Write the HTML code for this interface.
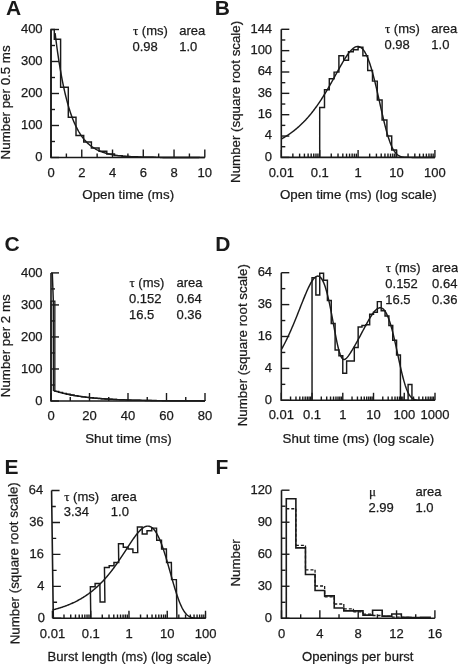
<!DOCTYPE html><html><head><meta charset="utf-8"><style>html,body{margin:0;padding:0;background:#fff;}svg{display:block;filter:blur(0.3px)}</style></head><body>
<svg width="458" height="664" viewBox="0 0 458 664" font-family="'Liberation Sans', Arial, Helvetica, sans-serif" fill="#1a1a1a" stroke="#1a1a1a" stroke-linecap="butt">
<rect width="458" height="664" fill="#fff" stroke="none"/>
<g stroke="none" font-weight="bold" font-size="21">
<text transform="translate(6,15.4) scale(1.0,1)" font-size="21" text-anchor="start" >A</text>
<text transform="translate(214.8,15.3) scale(1.0,1)" font-size="21" text-anchor="start" >B</text>
<text transform="translate(4.6,250.9) scale(1.0,1)" font-size="21" text-anchor="start" >C</text>
<text transform="translate(215.2,250.9) scale(1.0,1)" font-size="21" text-anchor="start" >D</text>
<text transform="translate(4.6,474.3) scale(1.0,1)" font-size="21" text-anchor="start" >E</text>
<text transform="translate(215.6,474.3) scale(1.0,1)" font-size="21" text-anchor="start" >F</text>
</g>
<path d="M51,29.5 V157.5 H204.8" fill="none" stroke-width="1.6"/>
<line x1="51" y1="157.5" x2="59" y2="157.5" stroke-width="1.4"/>
<line x1="51" y1="125.5" x2="59" y2="125.5" stroke-width="1.4"/>
<line x1="51" y1="93.5" x2="59" y2="93.5" stroke-width="1.4"/>
<line x1="51" y1="61.5" x2="59" y2="61.5" stroke-width="1.4"/>
<line x1="51" y1="29.5" x2="59" y2="29.5" stroke-width="1.4"/>
<line x1="51" y1="141.5" x2="55" y2="141.5" stroke-width="1.4"/>
<line x1="51" y1="109.5" x2="55" y2="109.5" stroke-width="1.4"/>
<line x1="51" y1="77.5" x2="55" y2="77.5" stroke-width="1.4"/>
<line x1="51" y1="45.5" x2="55" y2="45.5" stroke-width="1.4"/>
<line x1="51" y1="157.5" x2="51" y2="149.5" stroke-width="1.4"/>
<line x1="81.76" y1="157.5" x2="81.76" y2="149.5" stroke-width="1.4"/>
<line x1="112.52" y1="157.5" x2="112.52" y2="149.5" stroke-width="1.4"/>
<line x1="143.28" y1="157.5" x2="143.28" y2="149.5" stroke-width="1.4"/>
<line x1="174.04" y1="157.5" x2="174.04" y2="149.5" stroke-width="1.4"/>
<line x1="204.8" y1="157.5" x2="204.8" y2="149.5" stroke-width="1.4"/>
<line x1="66.38" y1="157.5" x2="66.38" y2="153.5" stroke-width="1.4"/>
<line x1="97.14" y1="157.5" x2="97.14" y2="153.5" stroke-width="1.4"/>
<line x1="127.9" y1="157.5" x2="127.9" y2="153.5" stroke-width="1.4"/>
<line x1="158.66" y1="157.5" x2="158.66" y2="153.5" stroke-width="1.4"/>
<line x1="189.42" y1="157.5" x2="189.42" y2="153.5" stroke-width="1.4"/>
<polyline points="51,157.5 51,29.5 54.3,29.5 54.3,39.2 60.6,39.2 60.6,87.2 68.3,87.2 68.3,117.2 76,117.2 76,135.4 83.7,135.4 83.7,141.9 91.4,141.9 91.4,147.9 99.1,147.9 99.1,151.2 106.8,151.2 106.8,153.9 114.5,153.9 114.5,155.63 122.2,155.63 122.2,156.38 129.9,156.38 129.9,156.83 137.6,156.83 137.6,157.1 145.3,157.1 145.3,157.26 153,157.26 153,157.35 160.7,157.35 160.7,157.41 168.4,157.41 168.4,157.45 176.1,157.45 176.1,157.47 183.8,157.47 183.8,157.48 191.5,157.48 191.5,157.49 199.2,157.49 199.2,157.5" fill="none" stroke-width="1.45" />
<polyline points="55.1,33.18 55.61,37.34 56.13,41.35 56.64,45.24 57.15,48.99 57.66,52.62 58.18,56.13 58.69,59.52 59.2,62.8 59.72,65.96 60.23,69.02 60.74,71.98 61.25,74.84 61.77,77.61 62.28,80.28 62.79,82.86 63.3,85.36 63.82,87.77 64.33,90.1 64.84,92.36 65.35,94.53 65.87,96.64 66.38,98.67 66.89,100.64 67.41,102.54 67.92,104.38 68.43,106.16 68.94,107.87 69.46,109.53 69.97,111.14 70.48,112.69 70.99,114.19 71.51,115.64 72.02,117.04 72.53,118.39 73.04,119.7 73.56,120.96 74.07,122.18 74.58,123.36 75.1,124.51 75.61,125.61 76.12,126.68 76.63,127.71 77.15,128.7 77.66,129.67 78.17,130.6 78.68,131.5 79.2,132.37 79.71,133.21 80.22,134.02 80.73,134.8 81.25,135.56 81.76,136.3 82.27,137.01 82.79,137.69 83.3,138.35 83.81,138.99 84.32,139.61 84.84,140.21 85.35,140.79 85.86,141.35 86.37,141.89 86.89,142.41 87.4,142.91 87.91,143.4 88.42,143.87 88.94,144.33 89.45,144.77 89.96,145.2 90.48,145.61 90.99,146 91.5,146.39 92.01,146.76 92.53,147.12 93.04,147.47 93.55,147.8 94.06,148.13 94.58,148.44 95.09,148.74 95.6,149.04 96.11,149.32 96.63,149.59 97.14,149.86 97.65,150.11 98.17,150.36 98.68,150.6 99.19,150.83 99.7,151.05 100.22,151.27 100.73,151.48 101.24,151.68 101.75,151.87 102.27,152.06 102.78,152.24 103.29,152.42 103.8,152.59 104.32,152.75 104.83,152.91 105.34,153.06 105.86,153.21 106.37,153.36 106.88,153.5 107.39,153.63 107.91,153.76 108.42,153.88 108.93,154 109.44,154.12 109.96,154.23 110.47,154.34 110.98,154.45 111.49,154.55 112.01,154.65 112.52,154.75 113.03,154.84 113.55,154.93 114.06,155.01 114.57,155.1 115.08,155.18 115.6,155.25 116.11,155.33 116.62,155.4 117.13,155.47 117.65,155.54 118.16,155.61 118.67,155.67 119.18,155.73 119.7,155.79 120.21,155.85 120.72,155.9 121.24,155.95 121.75,156.01 122.26,156.06 122.77,156.1 123.29,156.15 123.8,156.2 124.31,156.24 124.82,156.28 125.34,156.32 125.85,156.36 126.36,156.4 126.87,156.44 127.39,156.47 127.9,156.51 128.41,156.54 128.93,156.57 129.44,156.6 129.95,156.63 130.46,156.66 130.98,156.69 131.49,156.72 132,156.74 132.51,156.77 133.03,156.79 133.54,156.82 134.05,156.84 134.56,156.86 135.08,156.88 135.59,156.9 136.1,156.92 136.62,156.94 137.13,156.96 137.64,156.98 138.15,157 138.67,157.01 139.18,157.03 139.69,157.05 140.2,157.06 140.72,157.08 141.23,157.09 141.74,157.1 142.25,157.12 142.77,157.13 143.28,157.14 143.79,157.15 144.31,157.17 144.82,157.18 145.33,157.19 145.84,157.2 146.36,157.21 146.87,157.22 147.38,157.23 147.89,157.24 148.41,157.25 148.92,157.25 149.43,157.26 149.94,157.27 150.46,157.28 150.97,157.29 151.48,157.29 152,157.3 152.51,157.31 153.02,157.31 153.53,157.32 154.05,157.32 154.56,157.33 155.07,157.34 155.58,157.34 156.1,157.35 156.61,157.35 157.12,157.36 157.63,157.36 158.15,157.37 158.66,157.37 159.17,157.38 159.69,157.38 160.2,157.38 160.71,157.39 161.22,157.39 161.74,157.39 162.25,157.4 162.76,157.4 163.27,157.41 163.79,157.41 164.3,157.41 164.81,157.41 165.32,157.42 165.84,157.42 166.35,157.42 166.86,157.43 167.38,157.43 167.89,157.43 168.4,157.43 168.91,157.43 169.43,157.44 169.94,157.44 170.45,157.44 170.96,157.44 171.48,157.44 171.99,157.45 172.5,157.45 173.01,157.45 173.53,157.45 174.04,157.45 174.55,157.46 175.07,157.46 175.58,157.46 176.09,157.46 176.6,157.46 177.12,157.46 177.63,157.46 178.14,157.46 178.65,157.47 179.17,157.47 179.68,157.47 180.19,157.47 180.7,157.47 181.22,157.47 181.73,157.47 182.24,157.47 182.76,157.47 183.27,157.47 183.78,157.48 184.29,157.48 184.81,157.48 185.32,157.48 185.83,157.48 186.34,157.48 186.86,157.48 187.37,157.48 187.88,157.48 188.39,157.48 188.91,157.48 189.42,157.48 189.93,157.48 190.45,157.48 190.96,157.48 191.47,157.49 191.98,157.49 192.5,157.49 193.01,157.49 193.52,157.49 194.03,157.49 194.55,157.49 195.06,157.49 195.57,157.49 196.08,157.49 196.6,157.49 197.11,157.49 197.62,157.49 198.14,157.49 198.65,157.49 199.16,157.49 199.67,157.49 200.19,157.49 200.7,157.49 201.21,157.49 201.72,157.49 202.24,157.49 202.75,157.49 203.26,157.49 203.77,157.49 204.29,157.49 204.8,157.49" fill="none" stroke-width="1.45" />
<path d="M51,272.9 V401 H205" fill="none" stroke-width="1.6"/>
<line x1="51" y1="401" x2="59" y2="401" stroke-width="1.4"/>
<line x1="51" y1="368.98" x2="59" y2="368.98" stroke-width="1.4"/>
<line x1="51" y1="336.95" x2="59" y2="336.95" stroke-width="1.4"/>
<line x1="51" y1="304.92" x2="59" y2="304.92" stroke-width="1.4"/>
<line x1="51" y1="272.9" x2="59" y2="272.9" stroke-width="1.4"/>
<line x1="51" y1="384.99" x2="55" y2="384.99" stroke-width="1.4"/>
<line x1="51" y1="352.96" x2="55" y2="352.96" stroke-width="1.4"/>
<line x1="51" y1="320.94" x2="55" y2="320.94" stroke-width="1.4"/>
<line x1="51" y1="288.91" x2="55" y2="288.91" stroke-width="1.4"/>
<line x1="51" y1="401" x2="51" y2="393" stroke-width="1.4"/>
<line x1="89.5" y1="401" x2="89.5" y2="393" stroke-width="1.4"/>
<line x1="128" y1="401" x2="128" y2="393" stroke-width="1.4"/>
<line x1="166.5" y1="401" x2="166.5" y2="393" stroke-width="1.4"/>
<line x1="205" y1="401" x2="205" y2="393" stroke-width="1.4"/>
<line x1="70.25" y1="401" x2="70.25" y2="397" stroke-width="1.4"/>
<line x1="108.75" y1="401" x2="108.75" y2="397" stroke-width="1.4"/>
<line x1="147.25" y1="401" x2="147.25" y2="397" stroke-width="1.4"/>
<line x1="185.75" y1="401" x2="185.75" y2="397" stroke-width="1.4"/>
<polyline points="51,401 51,301.08 54.85,301.08 54.85,391.29 58.7,391.29 58.7,392.4 62.55,392.4 62.55,393.38 66.4,393.38 66.4,394.25 70.25,394.25 70.25,395.02 74.1,395.02 74.1,395.7 77.95,395.7 77.95,396.31 81.8,396.31 81.8,396.84 85.65,396.84 85.65,397.32 89.5,397.32 89.5,397.74 93.35,397.74 93.35,398.11 97.2,398.11 97.2,398.44 101.05,398.44 101.05,398.73 104.9,398.73 104.9,398.99 108.75,398.99 108.75,399.22 112.6,399.22 112.6,399.42 116.45,399.42 116.45,399.6 120.3,399.6 120.3,399.76 124.15,399.76 124.15,399.9 128,399.9 128,400.03 131.85,400.03 131.85,400.14 135.7,400.14 135.7,400.24 139.55,400.24 139.55,400.33 143.4,400.33 143.4,400.4 147.25,400.4 147.25,400.47 151.1,400.47 151.1,400.53 154.95,400.53 154.95,400.58 158.8,400.58 158.8,400.63 162.65,400.63 162.65,400.67 166.5,400.67 166.5,400.71 170.35,400.71 170.35,400.74 174.2,400.74 174.2,400.77 178.05,400.77 178.05,400.8 181.9,400.8 181.9,400.82 185.75,400.82 185.75,400.84 189.6,400.84 189.6,400.86 193.45,400.86 193.45,400.88 197.3,400.88 197.3,400.89 201.15,400.89 201.15,400.9 205,400.9 205,401" fill="none" stroke-width="1.3" />
<polyline points="52.3,272.9 53.3,300.5 53.5,390.99 53.5,390.49 54.01,390.66 54.51,390.82 55.02,390.98 55.52,391.14 56.03,391.3 56.53,391.45 57.04,391.6 57.54,391.75 58.05,391.89 58.55,392.04 59.06,392.18 59.56,392.32 60.07,392.45 60.57,392.59 61.08,392.72 61.58,392.85 62.09,392.98 62.59,393.11 63.1,393.23 63.6,393.35 64.11,393.48 64.61,393.59 65.12,393.71 65.62,393.83 66.13,393.94 66.63,394.05 67.14,394.16 67.64,394.27 68.15,394.37 68.65,394.48 69.16,394.58 69.66,394.68 70.17,394.78 70.67,394.88 71.18,394.98 71.68,395.07 72.19,395.17 72.69,395.26 73.2,395.35 73.7,395.44 74.21,395.52 74.71,395.61 75.22,395.7 75.72,395.78 76.23,395.86 76.73,395.94 77.24,396.02 77.74,396.1 78.25,396.18 78.75,396.25 79.26,396.33 79.76,396.4 80.27,396.48 80.77,396.55 81.28,396.62 81.78,396.69 82.29,396.75 82.79,396.82 83.3,396.89 83.8,396.95 84.31,397.02 84.81,397.08 85.32,397.14 85.82,397.2 86.33,397.26 86.83,397.32 87.34,397.38 87.84,397.44 88.35,397.49 88.85,397.55 89.36,397.6 89.86,397.66 90.37,397.71 90.87,397.76 91.38,397.81 91.88,397.86 92.39,397.91 92.89,397.96 93.4,398.01 93.9,398.05 94.41,398.1 94.91,398.15 95.42,398.19 95.92,398.24 96.43,398.28 96.93,398.32 97.44,398.37 97.94,398.41 98.45,398.45 98.95,398.49 99.46,398.53 99.96,398.57 100.47,398.6 100.97,398.64 101.48,398.68 101.98,398.72 102.49,398.75 102.99,398.79 103.5,398.82 104,398.86 104.51,398.89 105.01,398.92 105.52,398.96 106.02,398.99 106.53,399.02 107.03,399.05 107.54,399.08 108.04,399.11 108.55,399.14 109.05,399.17 109.56,399.2 110.06,399.23 110.57,399.26 111.07,399.28 111.58,399.31 112.08,399.34 112.59,399.36 113.09,399.39 113.6,399.42 114.1,399.44 114.61,399.47 115.11,399.49 115.62,399.51 116.12,399.54 116.63,399.56 117.13,399.58 117.64,399.6 118.14,399.63 118.65,399.65 119.15,399.67 119.66,399.69 120.16,399.71 120.67,399.73 121.17,399.75 121.68,399.77 122.18,399.79 122.69,399.81 123.19,399.83 123.7,399.85 124.2,399.87 124.71,399.88 125.21,399.9 125.72,399.92 126.22,399.94 126.73,399.95 127.23,399.97 127.74,399.98 128.24,400 128.75,400.02 129.25,400.03 129.76,400.05 130.26,400.06 130.77,400.08 131.27,400.09 131.78,400.11 132.28,400.12 132.79,400.13 133.29,400.15 133.8,400.16 134.3,400.17 134.81,400.19 135.31,400.2 135.82,400.21 136.32,400.23 136.83,400.24 137.33,400.25 137.84,400.26 138.34,400.27 138.85,400.28 139.35,400.3 139.86,400.31 140.36,400.32 140.87,400.33 141.37,400.34 141.88,400.35 142.38,400.36 142.89,400.37 143.39,400.38 143.9,400.39 144.4,400.4 144.91,400.41 145.41,400.42 145.92,400.43 146.42,400.44 146.93,400.45 147.43,400.45 147.94,400.46 148.44,400.47 148.95,400.48 149.45,400.49 149.96,400.5 150.46,400.5 150.97,400.51 151.47,400.52 151.98,400.53 152.48,400.53 152.99,400.54 153.49,400.55 154,400.56 154.5,400.56 155.01,400.57 155.51,400.58 156.02,400.58 156.52,400.59 157.03,400.6 157.53,400.6 158.04,400.61 158.54,400.62 159.05,400.62 159.55,400.63 160.06,400.63 160.56,400.64 161.07,400.64 161.57,400.65 162.08,400.66 162.58,400.66 163.09,400.67 163.59,400.67 164.1,400.68 164.6,400.68 165.11,400.69 165.61,400.69 166.12,400.7 166.62,400.7 167.13,400.71 167.63,400.71 168.14,400.72 168.64,400.72 169.15,400.72 169.65,400.73 170.16,400.73 170.66,400.74 171.17,400.74 171.67,400.75 172.18,400.75 172.68,400.75 173.19,400.76 173.69,400.76 174.2,400.76 174.7,400.77 175.21,400.77 175.71,400.78 176.22,400.78 176.72,400.78 177.23,400.79 177.73,400.79 178.24,400.79 178.74,400.8 179.25,400.8 179.75,400.8 180.26,400.81 180.76,400.81 181.27,400.81 181.77,400.81 182.28,400.82 182.78,400.82 183.29,400.82 183.79,400.83 184.3,400.83 184.8,400.83 185.31,400.83 185.81,400.84 186.32,400.84 186.82,400.84 187.33,400.84 187.83,400.85 188.34,400.85 188.84,400.85 189.35,400.85 189.85,400.86 190.36,400.86 190.86,400.86 191.37,400.86 191.87,400.87 192.38,400.87 192.88,400.87 193.39,400.87 193.89,400.87 194.4,400.88 194.9,400.88 195.41,400.88 195.91,400.88 196.42,400.88 196.92,400.89 197.43,400.89 197.93,400.89 198.44,400.89 198.94,400.89 199.45,400.89 199.95,400.9 200.46,400.9 200.96,400.9 201.47,400.9 201.97,400.9 202.48,400.9 202.98,400.91 203.49,400.91 203.99,400.91 204.5,400.91 205,400.91" fill="none" stroke-width="1.45" />
<path d="M281.3,29.3 V157.4 H434.9" fill="none" stroke-width="1.6"/>
<line x1="281.3" y1="157.4" x2="289.3" y2="157.4" stroke-width="1.4"/>
<line x1="281.3" y1="136.05" x2="289.3" y2="136.05" stroke-width="1.4"/>
<line x1="281.3" y1="114.7" x2="289.3" y2="114.7" stroke-width="1.4"/>
<line x1="281.3" y1="93.35" x2="289.3" y2="93.35" stroke-width="1.4"/>
<line x1="281.3" y1="72" x2="289.3" y2="72" stroke-width="1.4"/>
<line x1="281.3" y1="50.65" x2="289.3" y2="50.65" stroke-width="1.4"/>
<line x1="281.3" y1="29.3" x2="289.3" y2="29.3" stroke-width="1.4"/>
<line x1="281.3" y1="146.72" x2="285.3" y2="146.72" stroke-width="1.4"/>
<line x1="281.3" y1="125.38" x2="285.3" y2="125.38" stroke-width="1.4"/>
<line x1="281.3" y1="104.03" x2="285.3" y2="104.03" stroke-width="1.4"/>
<line x1="281.3" y1="82.67" x2="285.3" y2="82.67" stroke-width="1.4"/>
<line x1="281.3" y1="61.33" x2="285.3" y2="61.33" stroke-width="1.4"/>
<line x1="281.3" y1="39.98" x2="285.3" y2="39.98" stroke-width="1.4"/>
<line x1="281.3" y1="157.4" x2="281.3" y2="149.9" stroke-width="1.4"/>
<line x1="319.7" y1="157.4" x2="319.7" y2="149.9" stroke-width="1.4"/>
<line x1="358.1" y1="157.4" x2="358.1" y2="149.9" stroke-width="1.4"/>
<line x1="396.5" y1="157.4" x2="396.5" y2="149.9" stroke-width="1.4"/>
<line x1="434.9" y1="157.4" x2="434.9" y2="149.9" stroke-width="1.4"/>
<line x1="292.86" y1="157.4" x2="292.86" y2="153.6" stroke-width="1.4"/>
<line x1="299.62" y1="157.4" x2="299.62" y2="153.6" stroke-width="1.4"/>
<line x1="304.42" y1="157.4" x2="304.42" y2="153.6" stroke-width="1.4"/>
<line x1="308.14" y1="157.4" x2="308.14" y2="153.6" stroke-width="1.4"/>
<line x1="311.18" y1="157.4" x2="311.18" y2="153.6" stroke-width="1.4"/>
<line x1="313.75" y1="157.4" x2="313.75" y2="153.6" stroke-width="1.4"/>
<line x1="315.98" y1="157.4" x2="315.98" y2="153.6" stroke-width="1.4"/>
<line x1="317.94" y1="157.4" x2="317.94" y2="153.6" stroke-width="1.4"/>
<line x1="331.26" y1="157.4" x2="331.26" y2="153.6" stroke-width="1.4"/>
<line x1="338.02" y1="157.4" x2="338.02" y2="153.6" stroke-width="1.4"/>
<line x1="342.82" y1="157.4" x2="342.82" y2="153.6" stroke-width="1.4"/>
<line x1="346.54" y1="157.4" x2="346.54" y2="153.6" stroke-width="1.4"/>
<line x1="349.58" y1="157.4" x2="349.58" y2="153.6" stroke-width="1.4"/>
<line x1="352.15" y1="157.4" x2="352.15" y2="153.6" stroke-width="1.4"/>
<line x1="354.38" y1="157.4" x2="354.38" y2="153.6" stroke-width="1.4"/>
<line x1="356.34" y1="157.4" x2="356.34" y2="153.6" stroke-width="1.4"/>
<line x1="369.66" y1="157.4" x2="369.66" y2="153.6" stroke-width="1.4"/>
<line x1="376.42" y1="157.4" x2="376.42" y2="153.6" stroke-width="1.4"/>
<line x1="381.22" y1="157.4" x2="381.22" y2="153.6" stroke-width="1.4"/>
<line x1="384.94" y1="157.4" x2="384.94" y2="153.6" stroke-width="1.4"/>
<line x1="387.98" y1="157.4" x2="387.98" y2="153.6" stroke-width="1.4"/>
<line x1="390.55" y1="157.4" x2="390.55" y2="153.6" stroke-width="1.4"/>
<line x1="392.78" y1="157.4" x2="392.78" y2="153.6" stroke-width="1.4"/>
<line x1="394.74" y1="157.4" x2="394.74" y2="153.6" stroke-width="1.4"/>
<line x1="408.06" y1="157.4" x2="408.06" y2="153.6" stroke-width="1.4"/>
<line x1="414.82" y1="157.4" x2="414.82" y2="153.6" stroke-width="1.4"/>
<line x1="419.62" y1="157.4" x2="419.62" y2="153.6" stroke-width="1.4"/>
<line x1="423.34" y1="157.4" x2="423.34" y2="153.6" stroke-width="1.4"/>
<line x1="426.38" y1="157.4" x2="426.38" y2="153.6" stroke-width="1.4"/>
<line x1="428.95" y1="157.4" x2="428.95" y2="153.6" stroke-width="1.4"/>
<line x1="431.18" y1="157.4" x2="431.18" y2="153.6" stroke-width="1.4"/>
<line x1="433.14" y1="157.4" x2="433.14" y2="153.6" stroke-width="1.4"/>
<polyline points="319.7,157.4 319.7,107.5 324.5,107.5 324.5,89.8 329.3,89.8 329.3,78.7 334.1,78.7 334.1,72.1 338.9,72.1 338.9,55.7 343.7,55.7 343.7,60.3 348.5,60.3 348.5,51.8 353.3,51.8 353.3,49.8 358.1,49.8 358.1,47.2 362.9,47.2 362.9,55.7 367.7,55.7 367.7,70.5 372.5,70.5 372.5,81.1 377.3,81.1 377.3,99.9 382.1,99.9 382.1,120 386.9,120 386.9,136 391.7,136 391.7,150 396.5,150 396.5,157.4" fill="none" stroke-width="1.45" />
<polyline points="281.3,139.02 281.81,138.74 282.32,138.45 282.84,138.16 283.35,137.87 283.86,137.57 284.37,137.27 284.88,136.96 285.4,136.65 285.91,136.33 286.42,136.01 286.93,135.68 287.44,135.35 287.96,135.01 288.47,134.67 288.98,134.33 289.49,133.98 290,133.62 290.52,133.26 291.03,132.89 291.54,132.52 292.05,132.14 292.56,131.76 293.08,131.37 293.59,130.98 294.1,130.58 294.61,130.17 295.12,129.76 295.64,129.34 296.15,128.92 296.66,128.49 297.17,128.05 297.68,127.61 298.2,127.16 298.71,126.71 299.22,126.25 299.73,125.78 300.24,125.31 300.76,124.83 301.27,124.34 301.78,123.85 302.29,123.35 302.8,122.84 303.32,122.33 303.83,121.8 304.34,121.28 304.85,120.74 305.36,120.2 305.88,119.65 306.39,119.09 306.9,118.53 307.41,117.95 307.92,117.37 308.44,116.79 308.95,116.19 309.46,115.59 309.97,114.98 310.48,114.36 311,113.74 311.51,113.1 312.02,112.46 312.53,111.81 313.04,111.15 313.56,110.49 314.07,109.81 314.58,109.13 315.09,108.44 315.6,107.75 316.12,107.04 316.63,106.33 317.14,105.61 317.65,104.88 318.16,104.14 318.68,103.39 319.19,102.64 319.7,101.88 320.21,101.11 320.72,100.33 321.24,99.55 321.75,98.76 322.26,97.96 322.77,97.15 323.28,96.33 323.8,95.51 324.31,94.68 324.82,93.84 325.33,93 325.84,92.15 326.36,91.29 326.87,90.43 327.38,89.56 327.89,88.68 328.4,87.8 328.92,86.91 329.43,86.02 329.94,85.12 330.45,84.22 330.96,83.31 331.48,82.4 331.99,81.49 332.5,80.57 333.01,79.65 333.52,78.72 334.04,77.8 334.55,76.87 335.06,75.94 335.57,75.01 336.08,74.08 336.6,73.15 337.11,72.22 337.62,71.29 338.13,70.36 338.64,69.44 339.16,68.52 339.67,67.61 340.18,66.7 340.69,65.79 341.2,64.9 341.72,64.01 342.23,63.12 342.74,62.25 343.25,61.39 343.76,60.54 344.28,59.7 344.79,58.88 345.3,58.07 345.81,57.27 346.32,56.49 346.84,55.73 347.35,54.99 347.86,54.27 348.37,53.58 348.88,52.9 349.4,52.25 349.91,51.63 350.42,51.03 350.93,50.47 351.44,49.93 351.96,49.43 352.47,48.96 352.98,48.52 353.49,48.12 354,47.76 354.52,47.44 355.03,47.17 355.54,46.93 356.05,46.74 356.56,46.6 357.08,46.51 357.59,46.47 358.1,46.47 358.61,46.54 359.12,46.65 359.64,46.82 360.15,47.06 360.66,47.35 361.17,47.7 361.68,48.11 362.2,48.59 362.71,49.13 363.22,49.73 363.73,50.41 364.24,51.15 364.76,51.96 365.27,52.84 365.78,53.78 366.29,54.8 366.8,55.89 367.32,57.04 367.83,58.27 368.34,59.56 368.85,60.93 369.36,62.36 369.88,63.86 370.39,65.42 370.9,67.06 371.41,68.75 371.92,70.5 372.44,72.32 372.95,74.19 373.46,76.11 373.97,78.09 374.48,80.11 375,82.18 375.51,84.29 376.02,86.44 376.53,88.62 377.04,90.83 377.56,93.07 378.07,95.33 378.58,97.6 379.09,99.89 379.6,102.18 380.12,104.47 380.63,106.76 381.14,109.04 381.65,111.3 382.16,113.55 382.68,115.77 383.19,117.96 383.7,120.12 384.21,122.24 384.72,124.31 385.24,126.34 385.75,128.31 386.26,130.23 386.77,132.08 387.28,133.87 387.8,135.6 388.31,137.26 388.82,138.84 389.33,140.35 389.84,141.79 390.36,143.15 390.87,144.44 391.38,145.65 391.89,146.79 392.4,147.85 392.92,148.84 393.43,149.75 393.94,150.6 394.45,151.37 394.96,152.08 395.48,152.73 395.99,153.32 396.5,153.85 397.01,154.32 397.52,154.75 398.04,155.12 398.55,155.46 399.06,155.75 399.57,156.01 400.08,156.24 400.6,156.43 401.11,156.6 401.62,156.74 402.13,156.86 402.64,156.96 403.16,157.04 403.67,157.12 404.18,157.17 404.69,157.22 405.2,157.26 405.72,157.29 406.23,157.32 406.74,157.34 407.25,157.35 407.76,157.36 408.28,157.37 408.79,157.38 409.3,157.39 409.81,157.39 410.32,157.39 410.84,157.39 411.35,157.4 411.86,157.4 412.37,157.4 412.88,157.4 413.4,157.4 413.91,157.4 414.42,157.4 414.93,157.4 415.44,157.4 415.96,157.4 416.47,157.4 416.98,157.4 417.49,157.4 418,157.4 418.52,157.4 419.03,157.4 419.54,157.4 420.05,157.4 420.56,157.4 421.08,157.4 421.59,157.4 422.1,157.4 422.61,157.4 423.12,157.4 423.64,157.4 424.15,157.4 424.66,157.4 425.17,157.4 425.68,157.4 426.2,157.4 426.71,157.4 427.22,157.4 427.73,157.4 428.24,157.4 428.76,157.4 429.27,157.4 429.78,157.4 430.29,157.4 430.8,157.4 431.32,157.4 431.83,157.4 432.34,157.4 432.85,157.4 433.36,157.4 433.88,157.4 434.39,157.4 434.9,157.4" fill="none" stroke-width="1.45" />
<path d="M281.3,272.7 V400.3 H435" fill="none" stroke-width="1.6"/>
<line x1="281.3" y1="400.3" x2="289.3" y2="400.3" stroke-width="1.4"/>
<line x1="281.3" y1="368.4" x2="289.3" y2="368.4" stroke-width="1.4"/>
<line x1="281.3" y1="336.5" x2="289.3" y2="336.5" stroke-width="1.4"/>
<line x1="281.3" y1="304.6" x2="289.3" y2="304.6" stroke-width="1.4"/>
<line x1="281.3" y1="272.7" x2="289.3" y2="272.7" stroke-width="1.4"/>
<line x1="281.3" y1="384.35" x2="285.3" y2="384.35" stroke-width="1.4"/>
<line x1="281.3" y1="352.45" x2="285.3" y2="352.45" stroke-width="1.4"/>
<line x1="281.3" y1="320.55" x2="285.3" y2="320.55" stroke-width="1.4"/>
<line x1="281.3" y1="288.65" x2="285.3" y2="288.65" stroke-width="1.4"/>
<line x1="281.3" y1="400.3" x2="281.3" y2="392.8" stroke-width="1.4"/>
<line x1="312.04" y1="400.3" x2="312.04" y2="392.8" stroke-width="1.4"/>
<line x1="342.78" y1="400.3" x2="342.78" y2="392.8" stroke-width="1.4"/>
<line x1="373.52" y1="400.3" x2="373.52" y2="392.8" stroke-width="1.4"/>
<line x1="404.26" y1="400.3" x2="404.26" y2="392.8" stroke-width="1.4"/>
<line x1="435" y1="400.3" x2="435" y2="392.8" stroke-width="1.4"/>
<line x1="290.55" y1="400.3" x2="290.55" y2="396.5" stroke-width="1.4"/>
<line x1="295.97" y1="400.3" x2="295.97" y2="396.5" stroke-width="1.4"/>
<line x1="299.81" y1="400.3" x2="299.81" y2="396.5" stroke-width="1.4"/>
<line x1="302.79" y1="400.3" x2="302.79" y2="396.5" stroke-width="1.4"/>
<line x1="305.22" y1="400.3" x2="305.22" y2="396.5" stroke-width="1.4"/>
<line x1="307.28" y1="400.3" x2="307.28" y2="396.5" stroke-width="1.4"/>
<line x1="309.06" y1="400.3" x2="309.06" y2="396.5" stroke-width="1.4"/>
<line x1="310.63" y1="400.3" x2="310.63" y2="396.5" stroke-width="1.4"/>
<line x1="321.29" y1="400.3" x2="321.29" y2="396.5" stroke-width="1.4"/>
<line x1="326.71" y1="400.3" x2="326.71" y2="396.5" stroke-width="1.4"/>
<line x1="330.55" y1="400.3" x2="330.55" y2="396.5" stroke-width="1.4"/>
<line x1="333.53" y1="400.3" x2="333.53" y2="396.5" stroke-width="1.4"/>
<line x1="335.96" y1="400.3" x2="335.96" y2="396.5" stroke-width="1.4"/>
<line x1="338.02" y1="400.3" x2="338.02" y2="396.5" stroke-width="1.4"/>
<line x1="339.8" y1="400.3" x2="339.8" y2="396.5" stroke-width="1.4"/>
<line x1="341.37" y1="400.3" x2="341.37" y2="396.5" stroke-width="1.4"/>
<line x1="352.03" y1="400.3" x2="352.03" y2="396.5" stroke-width="1.4"/>
<line x1="357.45" y1="400.3" x2="357.45" y2="396.5" stroke-width="1.4"/>
<line x1="361.29" y1="400.3" x2="361.29" y2="396.5" stroke-width="1.4"/>
<line x1="364.27" y1="400.3" x2="364.27" y2="396.5" stroke-width="1.4"/>
<line x1="366.7" y1="400.3" x2="366.7" y2="396.5" stroke-width="1.4"/>
<line x1="368.76" y1="400.3" x2="368.76" y2="396.5" stroke-width="1.4"/>
<line x1="370.54" y1="400.3" x2="370.54" y2="396.5" stroke-width="1.4"/>
<line x1="372.11" y1="400.3" x2="372.11" y2="396.5" stroke-width="1.4"/>
<line x1="382.77" y1="400.3" x2="382.77" y2="396.5" stroke-width="1.4"/>
<line x1="388.19" y1="400.3" x2="388.19" y2="396.5" stroke-width="1.4"/>
<line x1="392.03" y1="400.3" x2="392.03" y2="396.5" stroke-width="1.4"/>
<line x1="395.01" y1="400.3" x2="395.01" y2="396.5" stroke-width="1.4"/>
<line x1="397.44" y1="400.3" x2="397.44" y2="396.5" stroke-width="1.4"/>
<line x1="399.5" y1="400.3" x2="399.5" y2="396.5" stroke-width="1.4"/>
<line x1="401.28" y1="400.3" x2="401.28" y2="396.5" stroke-width="1.4"/>
<line x1="402.85" y1="400.3" x2="402.85" y2="396.5" stroke-width="1.4"/>
<line x1="413.51" y1="400.3" x2="413.51" y2="396.5" stroke-width="1.4"/>
<line x1="418.93" y1="400.3" x2="418.93" y2="396.5" stroke-width="1.4"/>
<line x1="422.77" y1="400.3" x2="422.77" y2="396.5" stroke-width="1.4"/>
<line x1="425.75" y1="400.3" x2="425.75" y2="396.5" stroke-width="1.4"/>
<line x1="428.18" y1="400.3" x2="428.18" y2="396.5" stroke-width="1.4"/>
<line x1="430.24" y1="400.3" x2="430.24" y2="396.5" stroke-width="1.4"/>
<line x1="432.02" y1="400.3" x2="432.02" y2="396.5" stroke-width="1.4"/>
<line x1="433.59" y1="400.3" x2="433.59" y2="396.5" stroke-width="1.4"/>
<polyline points="312.04,400.3 312.04,277.6 315.88,277.6 315.88,295 319.73,295 319.73,273.2 323.57,273.2 323.57,280.3 327.41,280.3 327.41,300.5 331.25,300.5 331.25,323.5 335.1,323.5 335.1,350 338.94,350 338.94,355.7 342.78,355.7 342.78,373.3 346.62,373.3 346.62,361 350.47,361 350.47,361 354.31,361 354.31,347.5 358.15,347.5 358.15,326.9 361.99,326.9 361.99,325.4 365.84,325.4 365.84,324.8 369.68,324.8 369.68,314.3 373.52,314.3 373.52,312.2 377.36,312.2 377.36,301.6 381.21,301.6 381.21,310.8 385.05,310.8 385.05,316 388.89,316 388.89,325.5 392.73,325.5 392.73,340.3 396.57,340.3 396.57,355 400.42,355 400.42,400.3 404.26,400.3 404.26,400.3 408.1,400.3 408.1,384.5 411.94,384.5 411.94,400.3" fill="none" stroke-width="1.45" />
<polyline points="281.3,349.69 281.81,348.77 282.32,347.84 282.84,346.9 283.35,345.95 283.86,344.98 284.37,343.99 284.89,342.99 285.4,341.98 285.91,340.95 286.42,339.91 286.94,338.86 287.45,337.79 287.96,336.71 288.47,335.61 288.99,334.5 289.5,333.38 290.01,332.25 290.52,331.1 291.03,329.94 291.55,328.76 292.06,327.58 292.57,326.38 293.08,325.17 293.6,323.95 294.11,322.73 294.62,321.49 295.13,320.24 295.65,318.98 296.16,317.71 296.67,316.44 297.18,315.16 297.69,313.88 298.21,312.59 298.72,311.29 299.23,309.99 299.74,308.69 300.26,307.39 300.77,306.09 301.28,304.79 301.79,303.5 302.31,302.21 302.82,300.92 303.33,299.64 303.84,298.37 304.36,297.11 304.87,295.87 305.38,294.63 305.89,293.42 306.4,292.22 306.92,291.05 307.43,289.9 307.94,288.77 308.45,287.67 308.97,286.6 309.48,285.57 309.99,284.57 310.5,283.61 311.02,282.7 311.53,281.82 312.04,281 312.55,280.23 313.06,279.51 313.58,278.85 314.09,278.26 314.6,277.73 315.11,277.26 315.63,276.87 316.14,276.56 316.65,276.32 317.16,276.16 317.68,276.1 318.19,276.12 318.7,276.23 319.21,276.44 319.73,276.75 320.24,277.16 320.75,277.67 321.26,278.29 321.77,279.02 322.29,279.86 322.8,280.82 323.31,281.88 323.82,283.07 324.34,284.37 324.85,285.78 325.36,287.31 325.87,288.96 326.39,290.71 326.9,292.58 327.41,294.56 327.92,296.64 328.43,298.82 328.95,301.09 329.46,303.46 329.97,305.91 330.48,308.43 331,311.02 331.51,313.66 332.02,316.36 332.53,319.09 333.05,321.85 333.56,324.61 334.07,327.38 334.58,330.13 335.1,332.84 335.61,335.51 336.12,338.12 336.63,340.64 337.14,343.06 337.66,345.36 338.17,347.54 338.68,349.56 339.19,351.41 339.71,353.09 340.22,354.57 340.73,355.86 341.24,356.95 341.76,357.83 342.27,358.52 342.78,359.01 343.29,359.32 343.8,359.47 344.32,359.46 344.83,359.32 345.34,359.06 345.85,358.69 346.37,358.24 346.88,357.72 347.39,357.13 347.9,356.5 348.42,355.82 348.93,355.1 349.44,354.36 349.95,353.6 350.47,352.81 350.98,352.01 351.49,351.19 352,350.36 352.51,349.52 353.03,348.67 353.54,347.8 354.05,346.93 354.56,346.04 355.08,345.15 355.59,344.25 356.1,343.34 356.61,342.42 357.13,341.5 357.64,340.57 358.15,339.63 358.66,338.69 359.17,337.74 359.69,336.78 360.2,335.82 360.71,334.86 361.22,333.9 361.74,332.93 362.25,331.96 362.76,330.99 363.27,330.02 363.79,329.05 364.3,328.08 364.81,327.12 365.32,326.16 365.84,325.21 366.35,324.26 366.86,323.33 367.37,322.4 367.88,321.48 368.4,320.58 368.91,319.68 369.42,318.81 369.93,317.95 370.45,317.11 370.96,316.3 371.47,315.5 371.98,314.74 372.5,313.99 373.01,313.28 373.52,312.6 374.03,311.96 374.54,311.35 375.06,310.78 375.57,310.25 376.08,309.77 376.59,309.33 377.11,308.94 377.62,308.6 378.13,308.32 378.64,308.1 379.16,307.93 379.67,307.83 380.18,307.79 380.69,307.82 381.21,307.92 381.72,308.1 382.23,308.35 382.74,308.68 383.25,309.09 383.77,309.58 384.28,310.15 384.79,310.81 385.3,311.56 385.82,312.4 386.33,313.32 386.84,314.34 387.35,315.45 387.87,316.64 388.38,317.93 388.89,319.31 389.4,320.78 389.91,322.34 390.43,323.98 390.94,325.71 391.45,327.51 391.96,329.4 392.48,331.36 392.99,333.38 393.5,335.48 394.01,337.63 394.53,339.84 395.04,342.09 395.55,344.38 396.06,346.71 396.57,349.07 397.09,351.45 397.6,353.83 398.11,356.22 398.62,358.61 399.14,360.98 399.65,363.33 400.16,365.64 400.67,367.92 401.19,370.15 401.7,372.33 402.21,374.45 402.72,376.5 403.24,378.47 403.75,380.36 404.26,382.16 404.77,383.88 405.28,385.5 405.8,387.03 406.31,388.46 406.82,389.78 407.33,391.01 407.85,392.15 408.36,393.18 408.87,394.13 409.38,394.98 409.9,395.74 410.41,396.42 410.92,397.02 411.43,397.55 411.94,398.01 412.46,398.41 412.97,398.75 413.48,399.04 413.99,399.29 414.51,399.49 415.02,399.66 415.53,399.8 416.04,399.92 416.56,400.01 417.07,400.08 417.58,400.13 418.09,400.18 418.61,400.21 419.12,400.24 419.63,400.25 420.14,400.27 420.65,400.28 421.17,400.28 421.68,400.29 422.19,400.29 422.7,400.3 423.22,400.3 423.73,400.3 424.24,400.3 424.75,400.3 425.27,400.3 425.78,400.3 426.29,400.3 426.8,400.3 427.31,400.3 427.83,400.3 428.34,400.3 428.85,400.3 429.36,400.3 429.88,400.3 430.39,400.3 430.9,400.3 431.41,400.3 431.93,400.3 432.44,400.3 432.95,400.3 433.46,400.3 433.98,400.3 434.49,400.3 435,400.3" fill="none" stroke-width="1.45" />
<g transform="matrix(1,0,0.0135,1,-8.347,0)">
<path d="M53.3,490.5 V618.3 H205.6" fill="none" stroke-width="1.6"/>
<line x1="53.3" y1="618.3" x2="61.3" y2="618.3" stroke-width="1.4"/>
<line x1="53.3" y1="586.35" x2="61.3" y2="586.35" stroke-width="1.4"/>
<line x1="53.3" y1="554.4" x2="61.3" y2="554.4" stroke-width="1.4"/>
<line x1="53.3" y1="522.45" x2="61.3" y2="522.45" stroke-width="1.4"/>
<line x1="53.3" y1="490.5" x2="61.3" y2="490.5" stroke-width="1.4"/>
<line x1="53.3" y1="602.32" x2="57.3" y2="602.32" stroke-width="1.4"/>
<line x1="53.3" y1="570.38" x2="57.3" y2="570.38" stroke-width="1.4"/>
<line x1="53.3" y1="538.42" x2="57.3" y2="538.42" stroke-width="1.4"/>
<line x1="53.3" y1="506.48" x2="57.3" y2="506.48" stroke-width="1.4"/>
<line x1="52.5" y1="618.3" x2="52.5" y2="610.8" stroke-width="1.4"/>
<line x1="90.78" y1="618.3" x2="90.78" y2="610.8" stroke-width="1.4"/>
<line x1="129.05" y1="618.3" x2="129.05" y2="610.8" stroke-width="1.4"/>
<line x1="167.32" y1="618.3" x2="167.32" y2="610.8" stroke-width="1.4"/>
<line x1="205.6" y1="618.3" x2="205.6" y2="610.8" stroke-width="1.4"/>
<line x1="64.02" y1="618.3" x2="64.02" y2="614.5" stroke-width="1.4"/>
<line x1="70.76" y1="618.3" x2="70.76" y2="614.5" stroke-width="1.4"/>
<line x1="75.54" y1="618.3" x2="75.54" y2="614.5" stroke-width="1.4"/>
<line x1="79.25" y1="618.3" x2="79.25" y2="614.5" stroke-width="1.4"/>
<line x1="82.28" y1="618.3" x2="82.28" y2="614.5" stroke-width="1.4"/>
<line x1="84.85" y1="618.3" x2="84.85" y2="614.5" stroke-width="1.4"/>
<line x1="87.07" y1="618.3" x2="87.07" y2="614.5" stroke-width="1.4"/>
<line x1="89.02" y1="618.3" x2="89.02" y2="614.5" stroke-width="1.4"/>
<line x1="102.3" y1="618.3" x2="102.3" y2="614.5" stroke-width="1.4"/>
<line x1="109.04" y1="618.3" x2="109.04" y2="614.5" stroke-width="1.4"/>
<line x1="113.82" y1="618.3" x2="113.82" y2="614.5" stroke-width="1.4"/>
<line x1="117.53" y1="618.3" x2="117.53" y2="614.5" stroke-width="1.4"/>
<line x1="120.56" y1="618.3" x2="120.56" y2="614.5" stroke-width="1.4"/>
<line x1="123.12" y1="618.3" x2="123.12" y2="614.5" stroke-width="1.4"/>
<line x1="125.34" y1="618.3" x2="125.34" y2="614.5" stroke-width="1.4"/>
<line x1="127.3" y1="618.3" x2="127.3" y2="614.5" stroke-width="1.4"/>
<line x1="140.57" y1="618.3" x2="140.57" y2="614.5" stroke-width="1.4"/>
<line x1="147.31" y1="618.3" x2="147.31" y2="614.5" stroke-width="1.4"/>
<line x1="152.09" y1="618.3" x2="152.09" y2="614.5" stroke-width="1.4"/>
<line x1="155.8" y1="618.3" x2="155.8" y2="614.5" stroke-width="1.4"/>
<line x1="158.83" y1="618.3" x2="158.83" y2="614.5" stroke-width="1.4"/>
<line x1="161.4" y1="618.3" x2="161.4" y2="614.5" stroke-width="1.4"/>
<line x1="163.62" y1="618.3" x2="163.62" y2="614.5" stroke-width="1.4"/>
<line x1="165.57" y1="618.3" x2="165.57" y2="614.5" stroke-width="1.4"/>
<line x1="178.85" y1="618.3" x2="178.85" y2="614.5" stroke-width="1.4"/>
<line x1="185.59" y1="618.3" x2="185.59" y2="614.5" stroke-width="1.4"/>
<line x1="190.37" y1="618.3" x2="190.37" y2="614.5" stroke-width="1.4"/>
<line x1="194.08" y1="618.3" x2="194.08" y2="614.5" stroke-width="1.4"/>
<line x1="197.11" y1="618.3" x2="197.11" y2="614.5" stroke-width="1.4"/>
<line x1="199.67" y1="618.3" x2="199.67" y2="614.5" stroke-width="1.4"/>
<line x1="201.89" y1="618.3" x2="201.89" y2="614.5" stroke-width="1.4"/>
<line x1="203.85" y1="618.3" x2="203.85" y2="614.5" stroke-width="1.4"/>
<polyline points="90.78,618.3 90.78,586.7 95.56,586.7 95.56,583.5 100.34,583.5 100.34,602 105.13,602 105.13,567.5 109.91,567.5 109.91,565.7 114.7,565.7 114.7,562.5 119.48,562.5 119.48,543.8 124.27,543.8 124.27,547.3 129.05,547.3 129.05,549 133.83,549 133.83,552.6 138.62,552.6 138.62,526.9 143.4,526.9 143.4,533.9 148.19,533.9 148.19,530.7 152.97,530.7 152.97,528.1 157.76,528.1 157.76,540.3 162.54,540.3 162.54,549 167.32,549 167.32,562.5 172.11,562.5 172.11,579.6 176.89,579.6 176.89,618.3" fill="none" stroke-width="1.45" />
<polyline points="52.5,610 53.01,609.87 53.52,609.74 54.03,609.61 54.54,609.47 55.05,609.34 55.56,609.2 56.07,609.06 56.58,608.91 57.09,608.77 57.6,608.62 58.11,608.47 58.62,608.32 59.13,608.17 59.64,608.01 60.16,607.86 60.67,607.69 61.18,607.53 61.69,607.37 62.2,607.2 62.71,607.03 63.22,606.85 63.73,606.68 64.24,606.5 64.75,606.32 65.26,606.13 65.77,605.95 66.28,605.76 66.79,605.56 67.3,605.37 67.81,605.17 68.32,604.97 68.83,604.76 69.34,604.55 69.85,604.34 70.36,604.13 70.87,603.91 71.38,603.69 71.89,603.47 72.4,603.24 72.91,603.01 73.42,602.78 73.93,602.54 74.44,602.3 74.95,602.05 75.47,601.81 75.98,601.55 76.49,601.3 77,601.04 77.51,600.77 78.02,600.51 78.53,600.24 79.04,599.96 79.55,599.68 80.06,599.4 80.57,599.11 81.08,598.82 81.59,598.52 82.1,598.22 82.61,597.92 83.12,597.61 83.63,597.29 84.14,596.97 84.65,596.65 85.16,596.32 85.67,595.99 86.18,595.65 86.69,595.31 87.2,594.96 87.71,594.61 88.22,594.25 88.73,593.89 89.24,593.53 89.75,593.15 90.26,592.78 90.78,592.39 91.29,592 91.8,591.61 92.31,591.21 92.82,590.81 93.33,590.39 93.84,589.98 94.35,589.56 94.86,589.13 95.37,588.69 95.88,588.26 96.39,587.81 96.9,587.36 97.41,586.9 97.92,586.44 98.43,585.97 98.94,585.49 99.45,585.01 99.96,584.52 100.47,584.03 100.98,583.53 101.49,583.02 102,582.5 102.51,581.98 103.02,581.46 103.53,580.92 104.04,580.38 104.55,579.84 105.06,579.28 105.57,578.72 106.08,578.16 106.6,577.58 107.11,577 107.62,576.42 108.13,575.82 108.64,575.22 109.15,574.62 109.66,574 110.17,573.38 110.68,572.76 111.19,572.13 111.7,571.49 112.21,570.84 112.72,570.19 113.23,569.53 113.74,568.86 114.25,568.19 114.76,567.51 115.27,566.83 115.78,566.14 116.29,565.44 116.8,564.74 117.31,564.04 117.82,563.32 118.33,562.6 118.84,561.88 119.35,561.15 119.86,560.42 120.37,559.68 120.88,558.94 121.39,558.19 121.91,557.44 122.42,556.69 122.93,555.93 123.44,555.17 123.95,554.41 124.46,553.64 124.97,552.87 125.48,552.1 125.99,551.33 126.5,550.56 127.01,549.79 127.52,549.01 128.03,548.24 128.54,547.47 129.05,546.7 129.56,545.93 130.07,545.16 130.58,544.4 131.09,543.64 131.6,542.88 132.11,542.13 132.62,541.39 133.13,540.65 133.64,539.92 134.15,539.19 134.66,538.48 135.17,537.77 135.68,537.07 136.19,536.39 136.7,535.72 137.22,535.06 137.73,534.41 138.24,533.78 138.75,533.17 139.26,532.57 139.77,531.99 140.28,531.43 140.79,530.89 141.3,530.38 141.81,529.88 142.32,529.41 142.83,528.97 143.34,528.55 143.85,528.16 144.36,527.8 144.87,527.48 145.38,527.18 145.89,526.92 146.4,526.69 146.91,526.49 147.42,526.34 147.93,526.22 148.44,526.15 148.95,526.12 149.46,526.13 149.97,526.18 150.48,526.28 150.99,526.43 151.5,526.62 152.01,526.87 152.53,527.16 153.04,527.51 153.55,527.91 154.06,528.36 154.57,528.87 155.08,529.43 155.59,530.05 156.1,530.72 156.61,531.46 157.12,532.25 157.63,533.1 158.14,534 158.65,534.97 159.16,535.99 159.67,537.07 160.18,538.21 160.69,539.4 161.2,540.65 161.71,541.95 162.22,543.31 162.73,544.72 163.24,546.18 163.75,547.69 164.26,549.25 164.77,550.85 165.28,552.49 165.79,554.18 166.3,555.9 166.81,557.66 167.32,559.44 167.84,561.26 168.35,563.1 168.86,564.96 169.37,566.83 169.88,568.73 170.39,570.62 170.9,572.53 171.41,574.43 171.92,576.34 172.43,578.23 172.94,580.11 173.45,581.98 173.96,583.82 174.47,585.64 174.98,587.43 175.49,589.19 176,590.91 176.51,592.59 177.02,594.23 177.53,595.81 178.04,597.35 178.55,598.84 179.06,600.27 179.57,601.64 180.08,602.96 180.59,604.21 181.1,605.4 181.61,606.53 182.12,607.6 182.63,608.6 183.15,609.54 183.66,610.42 184.17,611.23 184.68,611.99 185.19,612.69 185.7,613.33 186.21,613.91 186.72,614.45 187.23,614.93 187.74,615.37 188.25,615.76 188.76,616.12 189.27,616.43 189.78,616.7 190.29,616.95 190.8,617.16 191.31,617.34 191.82,617.5 192.33,617.64 192.84,617.76 193.35,617.86 193.86,617.94 194.37,618.01 194.88,618.07 195.39,618.11 195.9,618.15 196.41,618.19 196.92,618.21 197.43,618.23 197.94,618.25 198.46,618.26 198.97,618.27 199.48,618.28 199.99,618.28 200.5,618.29 201.01,618.29 201.52,618.29 202.03,618.3 202.54,618.3 203.05,618.3 203.56,618.3 204.07,618.3 204.58,618.3 205.09,618.3 205.6,618.3" fill="none" stroke-width="1.45" />
</g>
<path d="M281.5,490.2 V618.3 H434.9" fill="none" stroke-width="1.6"/>
<line x1="281.5" y1="618.3" x2="289.5" y2="618.3" stroke-width="1.4"/>
<line x1="281.5" y1="586.27" x2="289.5" y2="586.27" stroke-width="1.4"/>
<line x1="281.5" y1="554.25" x2="289.5" y2="554.25" stroke-width="1.4"/>
<line x1="281.5" y1="522.23" x2="289.5" y2="522.23" stroke-width="1.4"/>
<line x1="281.5" y1="490.2" x2="289.5" y2="490.2" stroke-width="1.4"/>
<line x1="281.5" y1="602.29" x2="285.5" y2="602.29" stroke-width="1.4"/>
<line x1="281.5" y1="570.26" x2="285.5" y2="570.26" stroke-width="1.4"/>
<line x1="281.5" y1="538.24" x2="285.5" y2="538.24" stroke-width="1.4"/>
<line x1="281.5" y1="506.21" x2="285.5" y2="506.21" stroke-width="1.4"/>
<line x1="281.5" y1="618.3" x2="281.5" y2="610.3" stroke-width="1.4"/>
<line x1="319.85" y1="618.3" x2="319.85" y2="610.3" stroke-width="1.4"/>
<line x1="358.2" y1="618.3" x2="358.2" y2="610.3" stroke-width="1.4"/>
<line x1="396.55" y1="618.3" x2="396.55" y2="610.3" stroke-width="1.4"/>
<line x1="434.9" y1="618.3" x2="434.9" y2="610.3" stroke-width="1.4"/>
<line x1="300.68" y1="618.3" x2="300.68" y2="614.3" stroke-width="1.4"/>
<line x1="339.02" y1="618.3" x2="339.02" y2="614.3" stroke-width="1.4"/>
<line x1="377.38" y1="618.3" x2="377.38" y2="614.3" stroke-width="1.4"/>
<line x1="415.72" y1="618.3" x2="415.72" y2="614.3" stroke-width="1.4"/>
<polyline points="286.29,618.3 286.29,498.74 295.88,498.74 295.88,547.85 305.47,547.85 305.47,574.53 315.06,574.53 315.06,590.54 324.64,590.54 324.64,595.88 334.23,595.88 334.23,607.95 343.82,607.95 343.82,610.83 353.41,610.83 353.41,610.83 362.99,610.83 362.99,615.1 372.58,615.1 372.58,610.29 382.17,610.29 382.17,616.16 391.76,616.16 391.76,614.03 401.34,614.03 401.34,617.23 410.93,617.23 410.93,617.66 420.52,617.66 420.52,617.23 430.11,617.23 430.11,618.3" fill="none" stroke-width="1.6" />
<line x1="286.29" y1="508.77" x2="295.88" y2="508.77" stroke-width="1.3" stroke-dasharray="3,2"/>
<line x1="295.88" y1="545.41" x2="305.47" y2="545.41" stroke-width="1.3" stroke-dasharray="3,2"/>
<line x1="305.47" y1="569.78" x2="315.06" y2="569.78" stroke-width="1.3" stroke-dasharray="3,2"/>
<line x1="315.06" y1="586.01" x2="324.64" y2="586.01" stroke-width="1.3" stroke-dasharray="3,2"/>
<line x1="324.64" y1="596.81" x2="334.23" y2="596.81" stroke-width="1.3" stroke-dasharray="3,2"/>
<line x1="334.23" y1="604" x2="343.82" y2="604" stroke-width="1.3" stroke-dasharray="3,2"/>
<line x1="343.82" y1="608.78" x2="353.41" y2="608.78" stroke-width="1.3" stroke-dasharray="3,2"/>
<line x1="353.41" y1="611.96" x2="362.99" y2="611.96" stroke-width="1.3" stroke-dasharray="3,2"/>
<line x1="362.99" y1="614.08" x2="372.58" y2="614.08" stroke-width="1.3" stroke-dasharray="3,2"/>
<line x1="372.58" y1="615.49" x2="382.17" y2="615.49" stroke-width="1.3" stroke-dasharray="3,2"/>
<line x1="382.17" y1="616.43" x2="391.76" y2="616.43" stroke-width="1.3" stroke-dasharray="3,2"/>
<line x1="391.76" y1="617.06" x2="401.34" y2="617.06" stroke-width="1.3" stroke-dasharray="3,2"/>
<line x1="401.34" y1="617.47" x2="410.93" y2="617.47" stroke-width="1.3" stroke-dasharray="3,2"/>
<line x1="410.93" y1="617.75" x2="420.52" y2="617.75" stroke-width="1.3" stroke-dasharray="3,2"/>
<line x1="420.52" y1="617.93" x2="430.11" y2="617.93" stroke-width="1.3" stroke-dasharray="3,2"/>
<line x1="295.88" y1="508.77" x2="295.88" y2="545.41" stroke-width="1.3" stroke-dasharray="3,2"/>
<line x1="305.47" y1="545.41" x2="305.47" y2="569.78" stroke-width="1.3" stroke-dasharray="3,2"/>
<line x1="315.06" y1="569.78" x2="315.06" y2="586.01" stroke-width="1.3" stroke-dasharray="3,2"/>
<line x1="324.64" y1="586.01" x2="324.64" y2="596.81" stroke-width="1.3" stroke-dasharray="3,2"/>
<line x1="334.23" y1="596.81" x2="334.23" y2="604" stroke-width="1.3" stroke-dasharray="3,2"/>
<line x1="343.82" y1="604" x2="343.82" y2="608.78" stroke-width="1.3" stroke-dasharray="3,2"/>
<line x1="353.41" y1="608.78" x2="353.41" y2="611.96" stroke-width="1.3" stroke-dasharray="3,2"/>
<line x1="362.99" y1="611.96" x2="362.99" y2="614.08" stroke-width="1.3" stroke-dasharray="3,2"/>
<line x1="372.58" y1="614.08" x2="372.58" y2="615.49" stroke-width="1.3" stroke-dasharray="3,2"/>
<line x1="382.17" y1="615.49" x2="382.17" y2="616.43" stroke-width="1.3" stroke-dasharray="3,2"/>
<line x1="391.76" y1="616.43" x2="391.76" y2="617.06" stroke-width="1.3" stroke-dasharray="3,2"/>
<line x1="401.34" y1="617.06" x2="401.34" y2="617.47" stroke-width="1.3" stroke-dasharray="3,2"/>
<line x1="410.93" y1="617.47" x2="410.93" y2="617.75" stroke-width="1.3" stroke-dasharray="3,2"/>
<line x1="420.52" y1="617.75" x2="420.52" y2="617.93" stroke-width="1.3" stroke-dasharray="3,2"/>
<g stroke="#1a1a1a" stroke-width="0.25" stroke-linejoin="round">
<text transform="translate(42.6,161.2) scale(1.0,1)" font-size="13.0" text-anchor="end" >0</text>
<text transform="translate(42.6,129.2) scale(1.0,1)" font-size="13.0" text-anchor="end" >100</text>
<text transform="translate(42.6,97.2) scale(1.0,1)" font-size="13.0" text-anchor="end" >200</text>
<text transform="translate(42.6,65.2) scale(1.0,1)" font-size="13.0" text-anchor="end" >300</text>
<text transform="translate(42.6,33.2) scale(1.0,1)" font-size="13.0" text-anchor="end" >400</text>
<text transform="translate(51,176.7) scale(1.0,1)" font-size="13.0" text-anchor="middle" >0</text>
<text transform="translate(81.76,176.7) scale(1.0,1)" font-size="13.0" text-anchor="middle" >2</text>
<text transform="translate(112.52,176.7) scale(1.0,1)" font-size="13.0" text-anchor="middle" >4</text>
<text transform="translate(143.28,176.7) scale(1.0,1)" font-size="13.0" text-anchor="middle" >6</text>
<text transform="translate(174.04,176.7) scale(1.0,1)" font-size="13.0" text-anchor="middle" >8</text>
<text transform="translate(204.8,176.7) scale(1.0,1)" font-size="13.0" text-anchor="middle" >10</text>
<text transform="translate(82.3,199.2) scale(1.025,1)" font-size="13.0" text-anchor="start" >Open time (ms)</text>
<text transform="translate(42.6,404.7) scale(1.0,1)" font-size="13.0" text-anchor="end" >0</text>
<text transform="translate(42.6,372.68) scale(1.0,1)" font-size="13.0" text-anchor="end" >100</text>
<text transform="translate(42.6,340.65) scale(1.0,1)" font-size="13.0" text-anchor="end" >200</text>
<text transform="translate(42.6,308.62) scale(1.0,1)" font-size="13.0" text-anchor="end" >300</text>
<text transform="translate(42.6,276.6) scale(1.0,1)" font-size="13.0" text-anchor="end" >400</text>
<text transform="translate(51,419.8) scale(1.0,1)" font-size="13.0" text-anchor="middle" >0</text>
<text transform="translate(89.5,419.8) scale(1.0,1)" font-size="13.0" text-anchor="middle" >20</text>
<text transform="translate(128,419.8) scale(1.0,1)" font-size="13.0" text-anchor="middle" >40</text>
<text transform="translate(166.5,419.8) scale(1.0,1)" font-size="13.0" text-anchor="middle" >60</text>
<text transform="translate(205,419.8) scale(1.0,1)" font-size="13.0" text-anchor="middle" >80</text>
<text transform="translate(85.2,443.4) scale(1.025,1)" font-size="13.0" text-anchor="start" >Shut time (ms)</text>
<text transform="translate(272.1,160.7) scale(1.0,1)" font-size="13.0" text-anchor="end" >0</text>
<text transform="translate(272.1,139.35) scale(1.0,1)" font-size="13.0" text-anchor="end" >4</text>
<text transform="translate(272.1,118) scale(1.0,1)" font-size="13.0" text-anchor="end" >16</text>
<text transform="translate(272.1,96.65) scale(1.0,1)" font-size="13.0" text-anchor="end" >36</text>
<text transform="translate(272.1,75.3) scale(1.0,1)" font-size="13.0" text-anchor="end" >64</text>
<text transform="translate(272.1,53.95) scale(1.0,1)" font-size="13.0" text-anchor="end" >100</text>
<text transform="translate(272.1,32.6) scale(1.0,1)" font-size="13.0" text-anchor="end" >144</text>
<text transform="translate(281.3,176.7) scale(1.0,1)" font-size="13.0" text-anchor="middle" >0.01</text>
<text transform="translate(319.7,176.7) scale(1.0,1)" font-size="13.0" text-anchor="middle" >0.1</text>
<text transform="translate(358.1,176.7) scale(1.0,1)" font-size="13.0" text-anchor="middle" >1</text>
<text transform="translate(396.5,176.7) scale(1.0,1)" font-size="13.0" text-anchor="middle" >10</text>
<text transform="translate(434.9,176.7) scale(1.0,1)" font-size="13.0" text-anchor="middle" >100</text>
<text transform="translate(279.9,199.3) scale(1.025,1)" font-size="13.0" text-anchor="start" >Open time (ms) (log scale)</text>
<text transform="translate(272.1,404) scale(1.0,1)" font-size="13.0" text-anchor="end" >0</text>
<text transform="translate(272.1,372.1) scale(1.0,1)" font-size="13.0" text-anchor="end" >4</text>
<text transform="translate(272.1,340.2) scale(1.0,1)" font-size="13.0" text-anchor="end" >16</text>
<text transform="translate(272.1,308.3) scale(1.0,1)" font-size="13.0" text-anchor="end" >36</text>
<text transform="translate(272.1,276.4) scale(1.0,1)" font-size="13.0" text-anchor="end" >64</text>
<text transform="translate(281.3,419.3) scale(1.0,1)" font-size="13.0" text-anchor="middle" >0.01</text>
<text transform="translate(312.04,419.3) scale(1.0,1)" font-size="13.0" text-anchor="middle" >0.1</text>
<text transform="translate(342.78,419.3) scale(1.0,1)" font-size="13.0" text-anchor="middle" >1</text>
<text transform="translate(373.52,419.3) scale(1.0,1)" font-size="13.0" text-anchor="middle" >10</text>
<text transform="translate(404.26,419.3) scale(1.0,1)" font-size="13.0" text-anchor="middle" >100</text>
<text transform="translate(435,419.3) scale(1.0,1)" font-size="13.0" text-anchor="middle" >1000</text>
<text transform="translate(282.6,443.2) scale(1.025,1)" font-size="13.0" text-anchor="start" >Shut time (ms) (log scale)</text>
<g transform="matrix(1,0,0.0135,1,-8.347,0)">
<text transform="translate(44.9,622) scale(1.0,1)" font-size="13.0" text-anchor="end" >0</text>
<text transform="translate(44.9,590.05) scale(1.0,1)" font-size="13.0" text-anchor="end" >4</text>
<text transform="translate(44.9,558.1) scale(1.0,1)" font-size="13.0" text-anchor="end" >16</text>
<text transform="translate(44.9,526.15) scale(1.0,1)" font-size="13.0" text-anchor="end" >36</text>
<text transform="translate(44.9,494.2) scale(1.0,1)" font-size="13.0" text-anchor="end" >64</text>
<text transform="translate(19.2,563.3) rotate(-90) scale(1.025,1)" font-size="13.0" text-anchor="middle">Number (square root scale)</text>
</g>
<text transform="translate(52.5,637.5) scale(1.0,1)" font-size="13.0" text-anchor="middle" >0.01</text>
<text transform="translate(90.78,637.5) scale(1.0,1)" font-size="13.0" text-anchor="middle" >0.1</text>
<text transform="translate(129.05,637.5) scale(1.0,1)" font-size="13.0" text-anchor="middle" >1</text>
<text transform="translate(167.32,637.5) scale(1.0,1)" font-size="13.0" text-anchor="middle" >10</text>
<text transform="translate(205.6,637.5) scale(1.0,1)" font-size="13.0" text-anchor="middle" >100</text>
<text transform="translate(47.6,660.6) scale(1.008,1)" font-size="13.0" text-anchor="start" >Burst length (ms) (log scale)</text>
<text transform="translate(272.1,622) scale(1.0,1)" font-size="13.0" text-anchor="end" >0</text>
<text transform="translate(272.1,589.98) scale(1.0,1)" font-size="13.0" text-anchor="end" >30</text>
<text transform="translate(272.1,557.95) scale(1.0,1)" font-size="13.0" text-anchor="end" >60</text>
<text transform="translate(272.1,525.93) scale(1.0,1)" font-size="13.0" text-anchor="end" >90</text>
<text transform="translate(272.1,493.9) scale(1.0,1)" font-size="13.0" text-anchor="end" >120</text>
<text transform="translate(281.5,637.5) scale(1.0,1)" font-size="13.0" text-anchor="middle" >0</text>
<text transform="translate(319.85,637.5) scale(1.0,1)" font-size="13.0" text-anchor="middle" >4</text>
<text transform="translate(358.2,637.5) scale(1.0,1)" font-size="13.0" text-anchor="middle" >8</text>
<text transform="translate(396.55,637.5) scale(1.0,1)" font-size="13.0" text-anchor="middle" >12</text>
<text transform="translate(434.9,637.5) scale(1.0,1)" font-size="13.0" text-anchor="middle" >16</text>
<text transform="translate(302,660.5) scale(1.01,1)" font-size="13.0" text-anchor="start" >Openings per burst</text>
<text transform="translate(10,102.4) rotate(-90) scale(1.025,1)" font-size="13.0" text-anchor="middle">Number per 0.5 ms</text>
<text transform="translate(9.7,345.8) rotate(-90) scale(1.025,1)" font-size="13.0" text-anchor="middle">Number per 2 ms</text>
<text transform="translate(239.9,101.9) rotate(-90) scale(1.025,1)" font-size="13.0" text-anchor="middle">Number (square root scale)</text>
<text transform="translate(246.8,345.2) rotate(-90) scale(1.025,1)" font-size="13.0" text-anchor="middle">Number (square root scale)</text>
<text transform="translate(239.9,562.9) rotate(-90) scale(1.025,1)" font-size="13.0" text-anchor="middle">Number</text>
<text transform="translate(133,34.8) scale(1.0,1)" font-size="13.0"><tspan font-family="'Liberation Serif', serif">τ</tspan> (ms)</text>
<text transform="translate(179.2,34.8) scale(1.0,1)" font-size="13.0" text-anchor="start" >area</text>
<text transform="translate(132.5,51) scale(1.0,1)" font-size="13.0" text-anchor="start" >0.98</text>
<text transform="translate(179.2,51) scale(1.0,1)" font-size="13.0" text-anchor="start" >1.0</text>
<text transform="translate(385,33.4) scale(1.0,1)" font-size="13.0"><tspan font-family="'Liberation Serif', serif">τ</tspan> (ms)</text>
<text transform="translate(431.3,33.4) scale(1.0,1)" font-size="13.0" text-anchor="start" >area</text>
<text transform="translate(384.5,49.2) scale(1.0,1)" font-size="13.0" text-anchor="start" >0.98</text>
<text transform="translate(431.3,49.2) scale(1.0,1)" font-size="13.0" text-anchor="start" >1.0</text>
<text transform="translate(129.5,286.7) scale(1.0,1)" font-size="13.0"><tspan font-family="'Liberation Serif', serif">τ</tspan> (ms)</text>
<text transform="translate(176.5,286.7) scale(1.0,1)" font-size="13.0" text-anchor="start" >area</text>
<text transform="translate(129,302.5) scale(1.0,1)" font-size="13.0" text-anchor="start" >0.152</text>
<text transform="translate(176.5,302.5) scale(1.0,1)" font-size="13.0" text-anchor="start" >0.64</text>
<text transform="translate(129,319.2) scale(1.0,1)" font-size="13.0" text-anchor="start" >16.5</text>
<text transform="translate(176.5,319.2) scale(1.0,1)" font-size="13.0" text-anchor="start" >0.36</text>
<text transform="translate(385.8,272) scale(1.0,1)" font-size="13.0"><tspan font-family="'Liberation Serif', serif">τ</tspan> (ms)</text>
<text transform="translate(432.1,272) scale(1.0,1)" font-size="13.0" text-anchor="start" >area</text>
<text transform="translate(385.3,287.7) scale(1.0,1)" font-size="13.0" text-anchor="start" >0.152</text>
<text transform="translate(432.1,287.7) scale(1.0,1)" font-size="13.0" text-anchor="start" >0.64</text>
<text transform="translate(385.3,304.3) scale(1.0,1)" font-size="13.0" text-anchor="start" >16.5</text>
<text transform="translate(432.1,304.3) scale(1.0,1)" font-size="13.0" text-anchor="start" >0.36</text>
<text transform="translate(64.2,500.8) scale(1.0,1)" font-size="13.0"><tspan font-family="'Liberation Serif', serif">τ</tspan> (ms)</text>
<text transform="translate(110.8,500.8) scale(1.0,1)" font-size="13.0" text-anchor="start" >area</text>
<text transform="translate(63.7,516.3) scale(1.0,1)" font-size="13.0" text-anchor="start" >3.34</text>
<text transform="translate(110.8,516.3) scale(1.0,1)" font-size="13.0" text-anchor="start" >1.0</text>
<text transform="translate(369,495.8) scale(1.0,1)" font-size="13.0" font-family="'Liberation Serif', serif">μ</text>
<text transform="translate(415.4,495.8) scale(1.0,1)" font-size="13.0" text-anchor="start" >area</text>
<text transform="translate(368.5,512.3) scale(1.0,1)" font-size="13.0" text-anchor="start" >2.99</text>
<text transform="translate(415.4,512.3) scale(1.0,1)" font-size="13.0" text-anchor="start" >1.0</text>
</g>
</svg></body></html>
